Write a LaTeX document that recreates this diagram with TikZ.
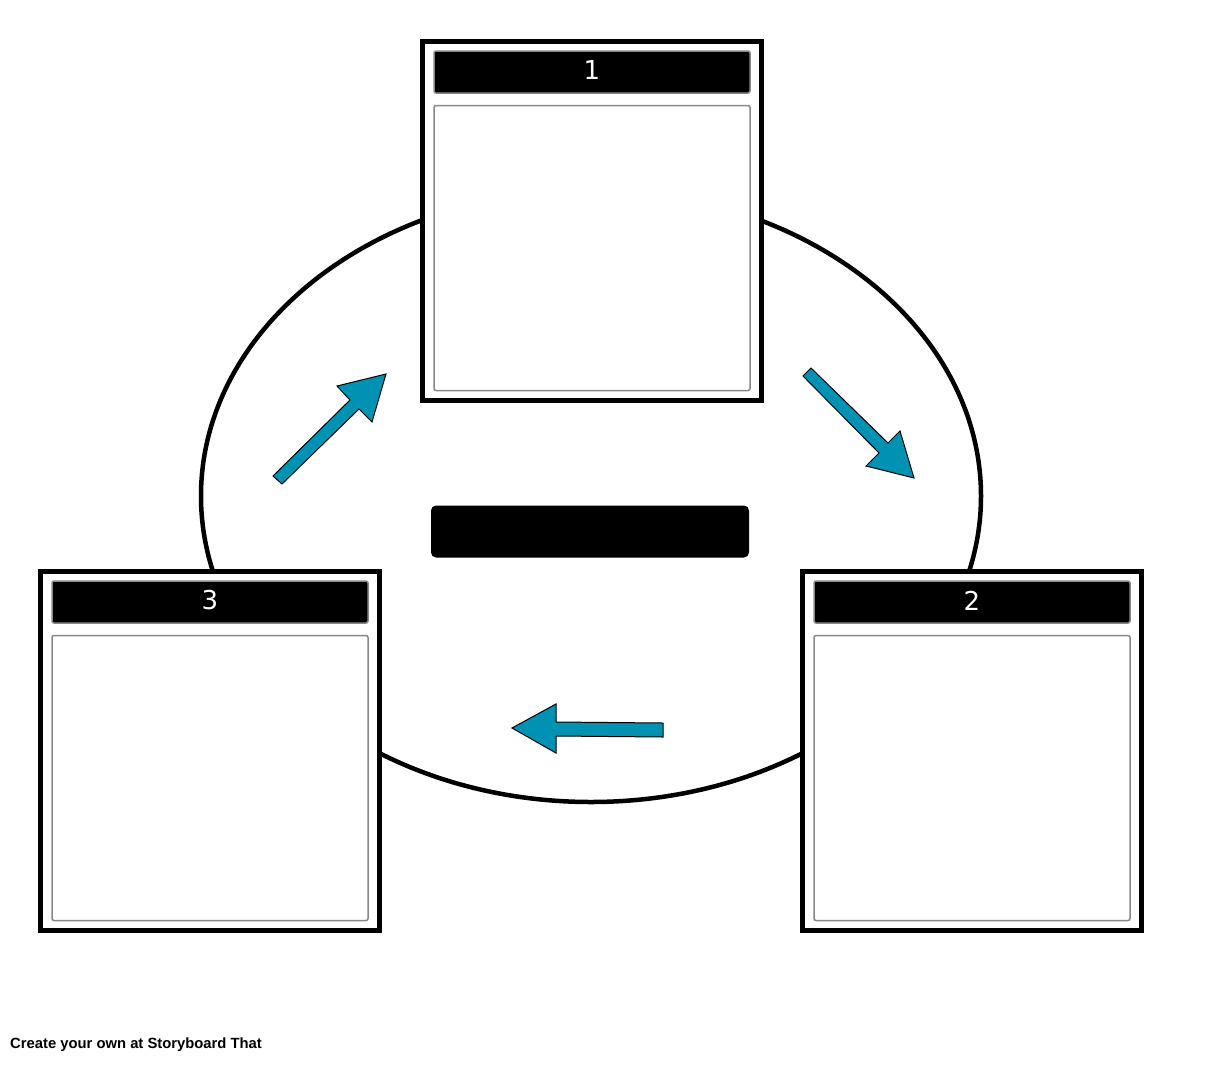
\documentclass[tikz,border=0pt]{standalone}
\usepackage{fontspec}
\setmainfont{DejaVu Sans}
\newfontfamily\footfont{Liberation Sans}
\definecolor{teal1}{RGB}{0,146,178}
\definecolor{greyline}{RGB}{136,136,136}
\tikzset{
  outerbox/.style={draw=black, fill=white, line width=5pt, inner sep=0pt, outer sep=0pt,
    minimum width=339pt, minimum height=359pt},
  headbar/.style={draw=greyline, fill=black, line width=1.5pt, rounded corners=2pt, inner sep=0pt,
    minimum width=316pt, minimum height=42pt},
  headlabel/.style={text=white, inner sep=0pt, font=\fontsize{26}{26}\selectfont},
  contentbox/.style={draw=greyline, fill=white, line width=1.5pt, rounded corners=2pt, inner sep=0pt,
    minimum width=316pt, minimum height=285pt},
  cycle/.style={draw=black, line width=4.5pt},
  blockarrow/.style={fill=teal1, draw=black, line width=1pt, line join=miter},
  titlebar/.style={fill=black, rounded corners=5pt, inner sep=0pt, minimum width=318pt, minimum height=52pt}
}
\newcommand\storypanel[4]{%
  \node[outerbox] (#1) at (#2,#3) {};
  \node[headbar] (#1head) at ($(#1.center)+(0,-149)$) {};
  \node[headlabel] (#1num) at ($(#1head.center)+(0,-1.5)$) {#4};
  \node[contentbox] (#1body) at ($(#1.center)+(0,27)$) {};
}
\usetikzlibrary{calc}
\begin{document}
\begin{tikzpicture}[x=1pt,y=-1pt]
\useasboundingbox (0,0) rectangle (1215,1085);
\fill[white] (0,0) rectangle (1215,1085);
% cycle ellipse
\draw[cycle] (591,496) ellipse [x radius=390, y radius=306];
% panels
\storypanel{p1}{592}{221}{1}
\storypanel{p2}{972}{751}{2}
\storypanel{p3}{210}{751}{3}
% central title bar
\node[titlebar] (title) at (590,531.5) {};
% arrows
\draw[blockarrow] (273,476) -- (350,400) -- (337,386) -- (386,374) -- (372,422) -- (359,409) -- (282,484) -- cycle;
\draw[blockarrow] (811,368) -- (888,443) -- (900,431) -- (914,478) -- (866,466) -- (879,453) -- (803,376) -- cycle;
\draw[blockarrow] (663,723) -- (556,722) -- (556,704) -- (512,728) -- (556,753) -- (556,736) -- (663,737) -- cycle;
% footer
\node[anchor=base west, inner sep=0pt, font=\footfont\bfseries\fontsize{14.8}{16}\selectfont] (credit) at (10,1048) {Create your own at Storyboard That};
\end{tikzpicture}
\end{document}
